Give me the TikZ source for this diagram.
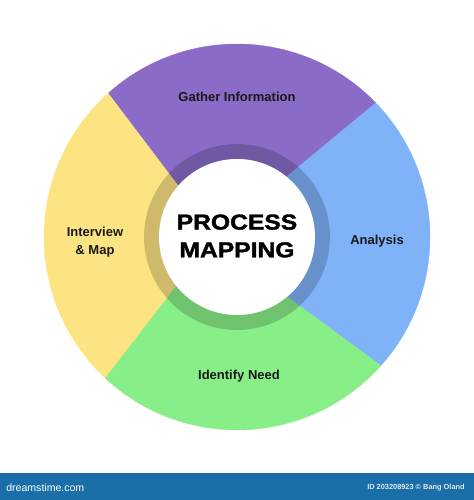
\documentclass[tikz,border=0pt]{standalone}
\usepackage{fontspec}
\setsansfont{Liberation Sans}
\newfontfamily\heavysans[UprightFeatures={FakeBold=1.6}, BoldFeatures={FakeBold=1.6}]{Liberation Sans}
\definecolor{gathercol}{RGB}{138,108,200}
\definecolor{analysiscol}{RGB}{128,178,248}
\definecolor{needcol}{RGB}{136,238,136}
\definecolor{interviewcol}{RGB}{252,228,130}
\definecolor{barcol}{RGB}{27,111,168}

\begin{document}
\begin{tikzpicture}[
			x=0.2mm,
			y=0.2mm,
			seglabel/.style={
				font=\sffamily\bfseries\fontsize{7.4}{10}\selectfont,
				align=center,
				text=black!90
			},
			centertitle/.style={
				font=\heavysans\bfseries\fontsize{12.3}{15.8}\selectfont,
				align=center,
				xscale=1.14
			},
			barnote/.style={
				text=white,
				inner sep=0pt
			}
			]
			\useasboundingbox (-237,-263) rectangle (237,237);
			
			% Sectors
			\foreach \ao/\bo/\ai/\bi/\col in {-41.8/44.2/-50/51/analysiscol, 44.2/131.9/51/139/gathercol, 131.9/227/139/219/interviewcol, 227/318.2/219/310/needcol}
			\fill[\col, draw=\col, line width=0.2pt] (\ao:193) arc[start angle=\ao, end angle=\bo, radius=193] -- (\bi:78) arc[start angle=\bi, end angle=\ai, radius=78] -- cycle;
			
			% Ring and hub
			\fill[black, opacity=0.18] (0,0) circle (93);
			\fill[white] (0,0) circle (78);
			
			% Labels
			\node[centertitle] (title) at (0,1) {PROCESS\\MAPPING};
			\node[seglabel, anchor=base] (gather) at (0,135) {Gather Information};
			\node[seglabel, anchor=base] (analysis) at (140,-8) {Analysis};
			\node[seglabel, anchor=base] (need) at (2,-142) {Identify Need};
			\node[seglabel] (interview) at (-142,-5) {Interview\\\& Map};
			
			% Bottom bar
			\fill[barcol] (-237,-236) rectangle (237,-263);
			\node[barnote, anchor=west, font=\sffamily\fontsize{6}{7}\selectfont] (site) at (-231,-251) {dreamstime.com};
			\node[barnote, anchor=east, text=white!85!barcol, font=\sffamily\bfseries\fontsize{4.2}{5}\selectfont] (credit) at (228,-251) {ID 203208923 © Bang Oland};
		\end{tikzpicture}
\end{document}
